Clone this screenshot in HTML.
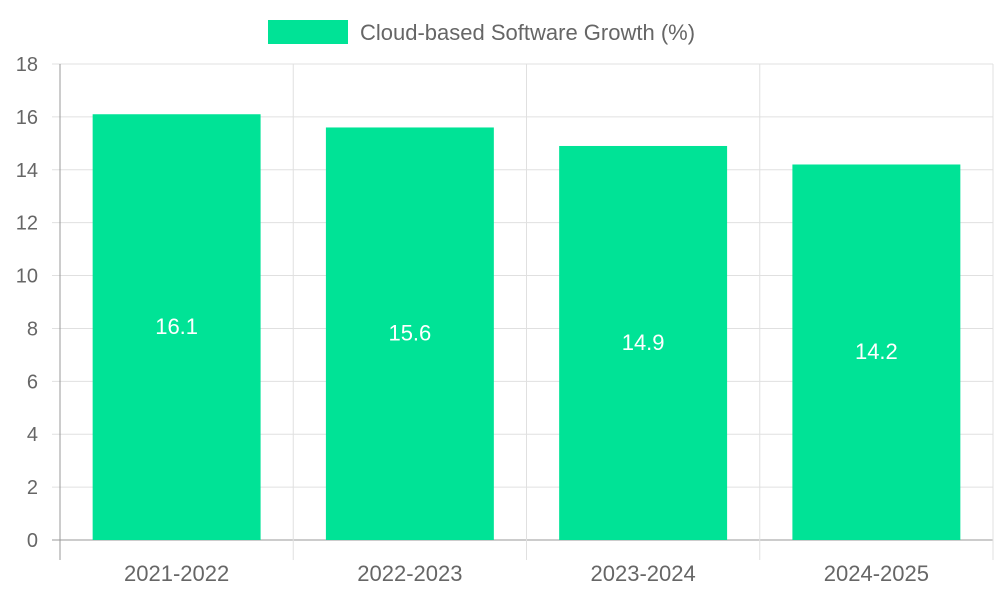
<!DOCTYPE html>
<html><head><meta charset="utf-8"><style>
body{margin:0;background:#fff;}
svg{display:block;font-family:"Liberation Sans",sans-serif;}
</style></head><body>
<svg id="c" width="1000" height="600">
<g id="legend">
<rect x="268" y="20" width="80" height="24" fill="#00e396"></rect>
<text x="360" y="40" font-size="22" fill="#666">Cloud-based Software Growth (%)</text>
</g>
<g id="grid"></g><g id="bars"></g><g id="labels"></g>
</svg>
<script>
const categories=["2021-2022","2022-2023","2023-2024","2024-2025"];
const values=[16.1,15.6,14.9,14.2];
const yTicks=[0,2,4,6,8,10,12,14,16,18];
const L=60,R=993,T=64,B=540,yMax=18;
const y=v=>B-(v/yMax)*(B-T);
const cw=(R-L)/categories.length;
const x=i=>L+i*cw;
const NS="http://www.w3.org/2000/svg";
function mk(parent,tag,attrs,text){const e=document.createElementNS(NS,tag);for(const k in attrs)e.setAttribute(k,attrs[k]);if(text!==undefined)e.textContent=text;document.getElementById(parent).appendChild(e);return e;}
yTicks.forEach(t=>{
 const g=mk('grid','line',{x1:L-8,x2:R,y1:y(t),y2:y(t),stroke:t===0?'#999':'#e0e0e0','stroke-width':1});
 
 
 const l=mk('labels','text',{x:38,y:y(t)+7,'font-size':20,fill:'#666','text-anchor':'end'},t);
 
 
});
for(let i=0;i<=categories.length;i++){
 const g=mk('grid','line',{x1:x(i),x2:x(i),y1:T,y2:B+20,stroke:i===0?'#999':'#e0e0e0','stroke-width':1});
 
 
}
categories.forEach((c,i)=>{
 const bw=cw*0.72,bx=x(i)+(cw-bw)/2;
 const b=mk('bars','rect',{x:bx,y:y(values[i]),width:bw,height:B-y(values[i]),fill:'#00e396'});
 
 
 const v=mk('labels','text',{x:x(i)+cw/2,y:(y(values[i])+B)/2+7,'font-size':22,fill:'#fff','text-anchor':'middle'},values[i].toFixed(1));
 
 
 const l=mk('labels','text',{x:x(i)+cw/2,y:581,'font-size':22,fill:'#666','text-anchor':'middle'},c);
 
 
});
</script>
</body></html>
